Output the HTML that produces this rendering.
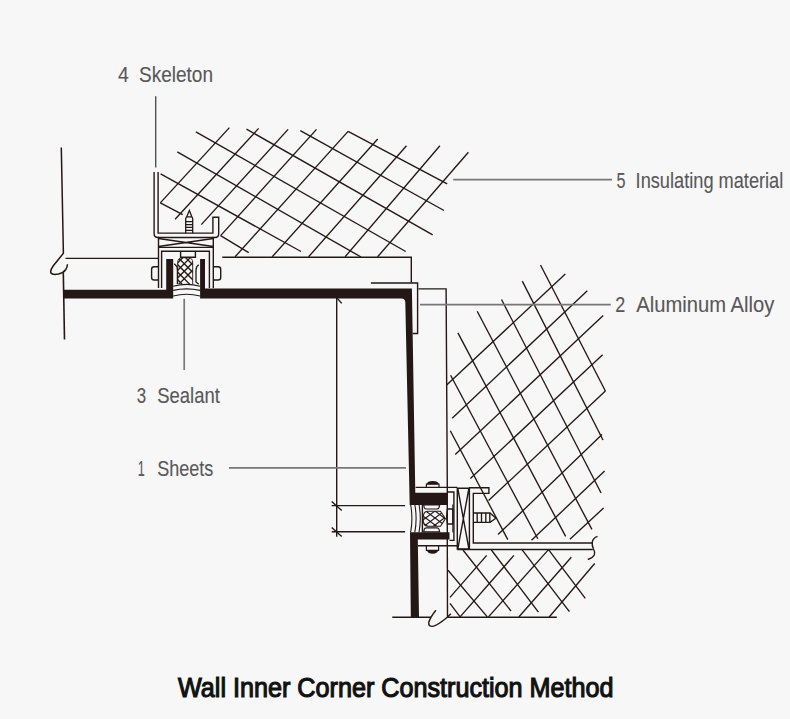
<!DOCTYPE html>
<html><head><meta charset="utf-8"><style>
html,body{margin:0;padding:0;background:#f7f7f7;}
svg{display:block;}
</style></head><body>
<svg width="790" height="719" viewBox="0 0 790 719">
<rect width="790" height="719" fill="#f7f7f7"/>
<g fill="none" stroke-linecap="butt">
<line x1="229.4" y1="127.6" x2="160.3" y2="202.9" stroke="#231815" stroke-width="1.35"/>
<line x1="258.6" y1="128.4" x2="175.1" y2="219.2" stroke="#231815" stroke-width="1.35"/>
<line x1="288.1" y1="129.4" x2="201.3" y2="224.6" stroke="#231815" stroke-width="1.35"/>
<line x1="316.5" y1="129.4" x2="220.6" y2="235.6" stroke="#231815" stroke-width="1.35"/>
<line x1="348.1" y1="131.4" x2="235.1" y2="256.8" stroke="#231815" stroke-width="1.35"/>
<line x1="377.7" y1="139" x2="272.2" y2="256.8" stroke="#231815" stroke-width="1.35"/>
<line x1="406.5" y1="145.8" x2="308.6" y2="256.8" stroke="#231815" stroke-width="1.35"/>
<line x1="439.9" y1="145.8" x2="345.1" y2="256.8" stroke="#231815" stroke-width="1.35"/>
<line x1="468.4" y1="152.2" x2="377.6" y2="256.8" stroke="#231815" stroke-width="1.35"/>
<line x1="348.1" y1="131.4" x2="447.2" y2="183.8" stroke="#231815" stroke-width="1.35"/>
<line x1="300.3" y1="130.6" x2="444" y2="210.5" stroke="#231815" stroke-width="1.35"/>
<line x1="246.5" y1="129.1" x2="432.7" y2="234.8" stroke="#231815" stroke-width="1.35"/>
<line x1="195.9" y1="131.8" x2="405.7" y2="251.5" stroke="#231815" stroke-width="1.35"/>
<line x1="177.3" y1="151.9" x2="361" y2="257" stroke="#231815" stroke-width="1.35"/>
<line x1="160.6" y1="173.9" x2="301" y2="251.5" stroke="#231815" stroke-width="1.35"/>
<line x1="160.3" y1="202.9" x2="182.7" y2="214.6" stroke="#231815" stroke-width="1.35"/>
<line x1="220.6" y1="235.6" x2="248.7" y2="252.6" stroke="#231815" stroke-width="1.35"/>
<line x1="540.5" y1="265" x2="605.4" y2="391" stroke="#231815" stroke-width="1.35"/>
<line x1="522.3" y1="281.1" x2="603" y2="440" stroke="#231815" stroke-width="1.35"/>
<line x1="501.5" y1="299.5" x2="601.1" y2="493" stroke="#231815" stroke-width="1.35"/>
<line x1="477.2" y1="311.3" x2="591.9" y2="529.4" stroke="#231815" stroke-width="1.35"/>
<line x1="457.9" y1="332.9" x2="565.6" y2="536.4" stroke="#231815" stroke-width="1.35"/>
<line x1="450.6" y1="375.2" x2="537.8" y2="538.8" stroke="#231815" stroke-width="1.35"/>
<line x1="450.3" y1="430.7" x2="507.8" y2="539.6" stroke="#231815" stroke-width="1.35"/>
<line x1="565.3" y1="274" x2="446.4" y2="385.3" stroke="#231815" stroke-width="1.35"/>
<line x1="587.3" y1="290.7" x2="452.2" y2="418.2" stroke="#231815" stroke-width="1.35"/>
<line x1="603.2" y1="315.6" x2="455.2" y2="454.6" stroke="#231815" stroke-width="1.35"/>
<line x1="602.6" y1="354.7" x2="470.4" y2="478.5" stroke="#231815" stroke-width="1.35"/>
<line x1="605.4" y1="391" x2="488.6" y2="500.5" stroke="#231815" stroke-width="1.35"/>
<line x1="602" y1="434.6" x2="498" y2="534.6" stroke="#231815" stroke-width="1.35"/>
<line x1="604.6" y1="471" x2="531.5" y2="540.3" stroke="#231815" stroke-width="1.35"/>
<line x1="603.6" y1="508" x2="569.9" y2="539.2" stroke="#231815" stroke-width="1.35"/>
<line x1="448" y1="570.2" x2="487.3" y2="616.9" stroke="#231815" stroke-width="1.35"/>
<line x1="463" y1="550" x2="511" y2="611" stroke="#231815" stroke-width="1.35"/>
<line x1="450" y1="603.3" x2="460.1" y2="616.9" stroke="#231815" stroke-width="1.35"/>
<line x1="491.4" y1="550" x2="538.4" y2="612.2" stroke="#231815" stroke-width="1.35"/>
<line x1="522" y1="549.6" x2="569.4" y2="611.6" stroke="#231815" stroke-width="1.35"/>
<line x1="548.5" y1="549.6" x2="585.3" y2="598.3" stroke="#231815" stroke-width="1.35"/>
<line x1="450" y1="597.4" x2="486.7" y2="555.4" stroke="#231815" stroke-width="1.35"/>
<line x1="460.1" y1="616.9" x2="513.9" y2="555.4" stroke="#231815" stroke-width="1.35"/>
<line x1="488.5" y1="616.9" x2="548.5" y2="549.6" stroke="#231815" stroke-width="1.35"/>
<line x1="518.8" y1="617" x2="571.3" y2="557.2" stroke="#231815" stroke-width="1.35"/>
<line x1="549.2" y1="617" x2="594.7" y2="563.5" stroke="#231815" stroke-width="1.35"/>
</g>
<g fill="none" stroke="#231815" stroke-width="1.4">
<!-- left wall line with break -->
<path d="M61.3,147.6 L63.4,253.3 L53.5,265.5 Q49.8,270.5 50.9,273 Q52.5,275.2 58.5,274 Q63.5,272.8 65.8,269.5 Q67.3,267 67.5,264.2" stroke-width="1.5"/>
<path d="M63.3,272.3 L64.5,339.6" stroke-width="1.6"/>
<!-- left panel top line -->
<path d="M65.5,258.4 H158.4"/>
<!-- top panel -->
<path d="M222.3,257.3 H411.3 V282.6"/>
<!-- aluminium angle -->
<path d="M370.9,283 H417.6 V333.5 H412.6"/>
<!-- right panel -->
<path d="M418.4,288.9 H446.1 L447.3,487"/>
<path d="M447.3,545 L447.5,617.2"/>
<path d="M392.3,617.2 H431 M447.5,617.2 H556.8"/>
<path d="M435.9,610.2 Q430,617.5 428.8,622.5 Q428.3,626.6 432.5,626.4 Q437,625.8 447.3,617.2 L450.8,613.7" stroke-width="1.4"/>
<!-- dimension -->
<path d="M336.7,297.6 V536.8"/>
<path d="M336.7,297.6 L341.7,303.4"/>
<path d="M331.7,505.6 H405.1 M331.7,531.8 H405.1"/>
<path d="M331.7,501.4 L341.7,510.4 M331.7,527.4 L341.7,536.4"/>
</g>
<g fill="none" stroke="#777777" stroke-width="1.7">
<path d="M155.7,96.2 V167.6" stroke="#4a4a4a" stroke-width="1.35"/>
<path d="M453.2,179.6 H612"/>
<path d="M420,304.6 H610.8"/>
<path d="M184.2,298.8 V370"/>
<path d="M229,467.9 H406"/>
</g>
<!-- thick sheets -->
<g fill="#231815" stroke="none">
<path d="M63.4,289.8 H166.2 V258.9 H173.2 V298.6 H63.4 Z"/>
<path d="M200.1,258.9 H205 V288.6 H411.9 L415.3,492.8 H447.3 V505.1 H409.7 L405.3,302 Q405,298.4 401.5,298.4 H200.1 Z"/>
<path d="M410,532.3 H449.5 V539.5 H417.8 L419,617 H410.8 Z"/>
</g>
<!-- top joint -->
<g fill="none" stroke="#231815" stroke-width="1.4">
<path d="M154.1,172 V233.5 Q154.1,237.5 158,237.5 H215 Q218.7,237.5 218.7,233.5 V217.3 H212.9 V233.1 H158.1 V172"/>
<path d="M185.7,233.2 V218.6 Q186,216.9 187.3,216.9 H191.1 Q192.4,216.9 192.7,218.6 V233.2 M186.6,216.9 L189.4,210.4 L191.9,216.9" stroke-width="1.3"/>
<path d="M185.7,221.6 H192.7 M185.7,224.5 H192.7 M185.7,227.4 H192.7 M185.7,230.3 H192.7" stroke-width="1.25"/>
<path d="M158.5,236.8 V288 M213.3,236.8 V288 M158.5,247.4 H213.3"/>
<path d="M158.5,238.5 L213.3,246.5 M158.5,246.5 L213.3,238.5" stroke-width="1.35"/>
<path d="M161.6,288 V251.2 H209.4 V288"/>
<path d="M180.6,251.2 V257.3 H195.4 V251.2"/>
<path d="M158.5,266.8 H154.2 Q151.6,266.8 151.6,269.4 V277.4 Q151.6,280 154.2,280 H158.5"/>
<path d="M213.3,266.8 H218 Q220.7,266.8 220.7,269.4 V277.4 Q220.7,280 218,280 H213.3"/>
<path d="M173.2,286.2 Q186.6,282.6 200.1,286.2 M173.2,290.4 Q186.6,287.4 200.1,290.4 M173.2,296 Q186.6,292.5 200.1,296" stroke-width="1.1"/>
<path d="M177.7,284.1 V263 Q177.7,257.7 182,257.7 H188.5 Q192.7,257.7 192.7,263 V284.1" stroke-width="0.9"/>
<path d="M174.3,263.8 Q177.2,265.8 177.4,270 V284 M198.8,264.8 Q196.2,266.3 196,270 V282 L198.8,284.3" stroke-width="1.3"/>
</g>
<!-- bottom joint -->
<g fill="none" stroke="#231815" stroke-width="1.4">
<path d="M415.6,487.4 H457.3 M418,545.8 H457.3"/>
<path d="M447.3,487 V545.8"/>
<path d="M426.4,487.4 V484.1 H439 V487.4 M426.4,546 V550.4 H438.6 V546" stroke-width="1.2"/>
<path d="M447.4,492 H453.9 V540.4 H449.5"/>
<path d="M452.8,504.5 V532.4" stroke-width="1"/>
<path d="M447.4,509 H452.8 V524 H447.4 Q445.6,516.5 447.4,509" stroke-width="1.3"/>
<path d="M423.7,505 H439.7 L439,507.5 Q438.5,509 437,509 H426.5 Q424.5,509 424.2,507.5 Z M423.7,531.9 H439.7 L439,529.4 Q438.5,527.9 437,527.9 H426.5 Q424.5,527.9 424.2,529.4 Z" stroke-width="1.2"/>
<path d="M410.6,504.5 Q413.2,518.4 410.6,532.3 M414.8,504.5 Q417.4,518.4 414.8,532.3 M419,504.5 Q421.6,518.4 419,532.3" stroke-width="1.1"/>
<path d="M422.4,505 V532.4" stroke-width="1.4"/>
<path d="M457.3,488.3 H469.4 V549 H457.3 Z M457.9,489 L468.8,548.3 M468.8,489 L457.9,548.3" stroke-width="1.4"/>
<path d="M468.9,487.7 H488.9 V493.4 H473.3 V543 H592.3 M457.3,549.5 H592.8"/>
<path d="M597.5,536.4 Q593,538 592.3,542 Q591.9,545.5 593.3,548.5 Q595.3,552 594.3,555 Q592.5,558.2 587.8,559.5" stroke-width="1.4"/>
<path d="M473.7,513 H490 L495.9,518.2 L490,522.4 H473.7" stroke-width="1.3"/>
<path d="M477.2,513 V522.5 M481.5,513 V522.5 M485.8,513 V522.5 M489.8,513 V522.5" stroke-width="1.35"/>
</g>
<g fill="#231815" stroke="none">
<path d="M426.7,484.2 Q427.2,480.9 432.7,480.9 Q438.2,480.9 438.8,484.2 Z"/>
<path d="M427,550.3 Q427.5,553.7 432.6,553.7 Q437.7,553.7 438.1,550.3 Z"/>
</g>
<defs>
<clipPath id="mesh2"><path d="M423.1,518.7 Q423.1,511.3 427.5,511.3 H440.5 L445.4,518.7 L440.5,526.2 H427.5 Q423.1,526.2 423.1,518.7 Z"/></clipPath>
<clipPath id="mesh1"><path d="M177.7,284.1 V263 Q177.7,257.7 182,257.7 H188.5 Q192.7,257.7 192.7,263 V284.1 Z"/></clipPath>
</defs>
<g clip-path="url(#mesh2)" stroke="#231815" stroke-width="1.15" fill="none">
<path d="M415,503 L455,533 M415,496 L455,526 M415,510 L455,540 M415,489 L455,519 M415,517 L455,547"/>
<path d="M415,533 L455,503 M415,526 L455,496 M415,540 L455,510 M415,519 L455,489 M415,547 L455,517"/>
</g>
<path d="M423.1,518.7 Q423.1,511.3 427.5,511.3 H440.5 L445.4,518.7 L440.5,526.2 H427.5 Q423.1,526.2 423.1,518.7 Z" fill="none" stroke="#231815" stroke-width="1.1"/>
<g clip-path="url(#mesh1)" stroke="#231815" stroke-width="1.25" fill="none">
<path d="M165,252 L200,287 M165,259.5 L200,294.5 M165,267 L200,302 M165,244.5 L200,279.5 M165,237 L200,272 M165,229.5 L200,264.5"/>
<path d="M165,283 L200,248 M165,290.5 L200,255.5 M165,298 L200,263 M165,275.5 L200,240.5 M165,268 L200,233"/>
</g>
<g font-family="Liberation Sans, sans-serif" fill="#58585a" stroke="#58585a" stroke-width="0.12" font-size="21.5">
<text x="118" y="81.7" textLength="10.8" lengthAdjust="spacingAndGlyphs">4</text>
<text x="139" y="81.7" textLength="74" lengthAdjust="spacingAndGlyphs">Skeleton</text>
<text x="616.4" y="187.8" textLength="9" lengthAdjust="spacingAndGlyphs">5</text>
<text x="635.6" y="187.8" textLength="147.7" lengthAdjust="spacingAndGlyphs">Insulating material</text>
<text x="615.3" y="312.3" textLength="10" lengthAdjust="spacingAndGlyphs">2</text>
<text x="636.3" y="312.3" textLength="138" lengthAdjust="spacingAndGlyphs">Aluminum Alloy</text>
<text x="136.8" y="402.8" textLength="9.4" lengthAdjust="spacingAndGlyphs">3</text>
<text x="157.2" y="402.8" textLength="62.6" lengthAdjust="spacingAndGlyphs">Sealant</text>
<text x="137.7" y="475.8" textLength="7" lengthAdjust="spacingAndGlyphs">1</text>
<text x="157.2" y="475.8" textLength="56.2" lengthAdjust="spacingAndGlyphs">Sheets</text>
</g>
<text x="178" y="696.8" font-family="Liberation Sans, sans-serif" font-size="27.5" fill="#111" stroke="#111" stroke-width="1.15" textLength="435.5" lengthAdjust="spacingAndGlyphs">Wall Inner Corner Construction Method</text>

</svg>
</body></html>
